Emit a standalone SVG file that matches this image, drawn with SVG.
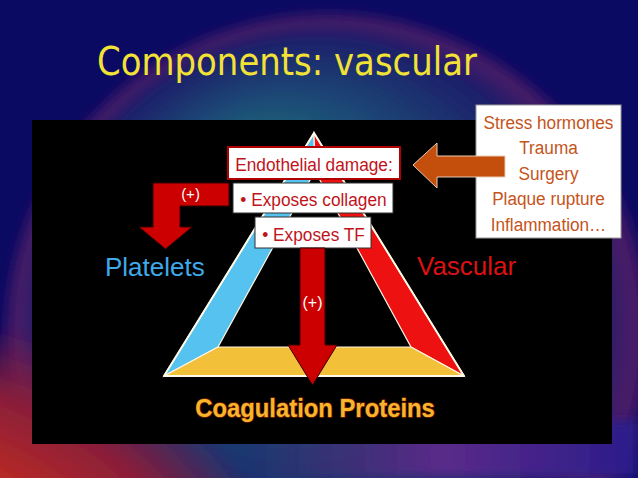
<svg xmlns="http://www.w3.org/2000/svg" width="638" height="478" viewBox="0 0 638 478">
<style>
.box{fill:#ffffff}
.lbl{font-family:"Liberation Sans",Arial,sans-serif;font-size:18.5px;fill:#c0141c;text-anchor:middle}
.cause{font-family:"Liberation Sans",Arial,sans-serif;font-size:19px;fill:#c4541a;text-anchor:middle}
.plus{font-family:"Liberation Sans",Arial,sans-serif;fill:#ffffff;text-anchor:middle}
.arrow{fill:#cc0000;stroke:#3a0000;stroke-width:1}
.band{stroke:#fff6e2;stroke-width:1.2;stroke-linejoin:miter}
</style>
<defs>
<radialGradient id="globe" gradientUnits="userSpaceOnUse" cx="330" cy="340" r="330" fx="250" fy="160">
<stop offset="0" stop-color="#217078"/>
<stop offset="0.4" stop-color="#1a4b76"/>
<stop offset="0.82" stop-color="#1a1f6a"/>
<stop offset="0.95" stop-color="#4e1a66"/>
<stop offset="1" stop-color="#1a1066" stop-opacity="0"/>
</radialGradient>
<radialGradient id="earth" cx="0.12" cy="0.92" r="0.85">
<stop offset="0" stop-color="#fbd848"/>
<stop offset="0.25" stop-color="#f08020"/>
<stop offset="0.55" stop-color="#c02c20"/>
<stop offset="0.8" stop-color="#8a1e3a"/>
<stop offset="1" stop-color="#8a1e3a" stop-opacity="0"/>
</radialGradient>
<linearGradient id="bgr" x1="0" y1="0" x2="1" y2="0">
<stop offset="0" stop-color="#5a2a70" stop-opacity="0"/>
<stop offset="0.5" stop-color="#5a2a8a"/>
<stop offset="1" stop-color="#2a1c8a"/>
</linearGradient>
<filter id="blur" x="-20%" y="-20%" width="140%" height="140%"><feGaussianBlur stdDeviation="6"/></filter>
</defs>

<g id="background">
<rect width="638" height="478" fill="#0a0a62"/>
<circle cx="330" cy="340" r="330" fill="url(#globe)" filter="url(#blur)"/>
<rect x="250" y="420" width="388" height="58" fill="url(#bgr)" filter="url(#blur)"/>
<ellipse cx="50" cy="475" rx="270" ry="200" fill="url(#earth)" filter="url(#blur)"/>
<rect x="32" y="120" width="580" height="324" fill="#000000"/>
</g>

<g id="triangle">
<polygon class="band" points="314,133 315,171 218,347 164,376" fill="#56c2ef"/>
<polygon class="band" points="314,133 464,376 411,347 315,171" fill="#ee1111"/>
<polygon class="band" points="164,376 218,347 411,347 464,376" fill="#f3c03a"/>
<polygon points="314,133 464,376 164,376" fill="none" stroke="#fffbe8" stroke-width="2" stroke-linejoin="round"/>
</g>

<g id="platelets"><text x="105" y="276" font-family="'Liberation Sans',Arial,sans-serif" font-size="26" fill="#3fa9ea">Platelets</text></g>
<g id="vascular"><text x="417" y="275" font-family="'Liberation Sans',Arial,sans-serif" font-size="26" fill="#dd1111">Vascular</text></g>
<g id="coagulation"><text transform="translate(315,417) scale(0.9,1)" text-anchor="middle" font-family="'Liberation Sans',Arial,sans-serif" font-size="26.5" font-weight="bold" fill="#f7b52c" stroke="#7a2000" stroke-width="1.5" paint-order="stroke">Coagulation Proteins</text></g>

<g id="title"><text x="97" y="75" font-family="'DejaVu Sans',Verdana,sans-serif" font-size="39" fill="#f2e236" textLength="380" lengthAdjust="spacingAndGlyphs">Components: vascular</text></g>

<g id="endothelial">
<rect class="box" x="228" y="147" width="172" height="32" stroke="#b00000" stroke-width="2"/>
<text class="lbl" transform="translate(314,171) scale(0.935,1)">Endothelial damage:</text>
</g>
<g id="collagen">
<rect class="box" x="233" y="183" width="160" height="30" stroke="#333333" stroke-width="1"/>
<text class="lbl" transform="translate(313.5,206) scale(0.935,1)">• Exposes collagen</text>
</g>
<g id="tf">
<rect class="box" x="255" y="217" width="116" height="31" stroke="#333333" stroke-width="1"/>
<text class="lbl" transform="translate(313.5,241) scale(0.935,1)">• Exposes TF</text>
</g>

<g id="causes">
<rect class="box" x="476" y="105" width="145" height="133" stroke="#9a9a9a" stroke-width="1"/>
<g transform="translate(548.5,0) scale(0.905,1)">
<text class="cause" x="0" y="129">Stress hormones</text>
<text class="cause" x="0" y="154.5">Trauma</text>
<text class="cause" x="0" y="180">Surgery</text>
<text class="cause" x="0" y="205.5">Plaque rupture</text>
<text class="cause" x="0" y="231">Inflammation…</text>
</g>
</g>

<g id="connectors">
<polygon class="arrow" points="229,183 153,183 153,227 139,227 165.5,249 192,227 180,227 180,206 229,206"/>
<text class="plus" x="190.5" y="199" font-size="15">(+)</text>
<polygon class="arrow" points="300,248 325,248 325,345 337,345 312.5,385 288,345 300,345"/>
<text class="plus" x="312.5" y="308" font-size="16">(+)</text>
<polygon points="413,165 437,143 437,156 505,156 505,177 437,177 437,188" fill="#c44e0c" stroke="#e8cbb4" stroke-width="1"/>
</g>
</svg>
